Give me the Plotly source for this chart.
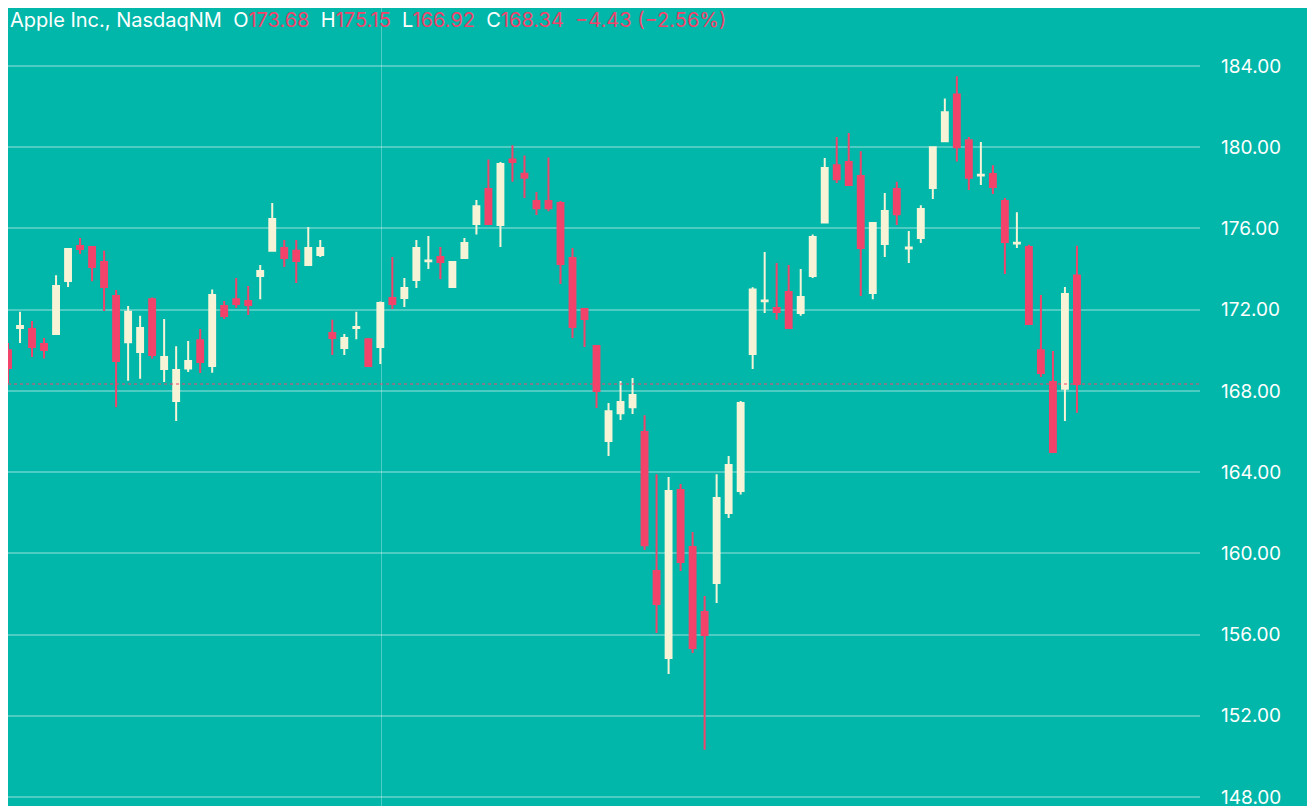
import plotly.graph_objects as go

opens = [173.12,170.0,171.1,171.05,170.31,170.8,173.41,175.14,175.09,174.35,172.67,170.4,169.92,172.52,169.08,167.5,169.1,170.5,169.23,172.18,172.52,172.43,173.66,174.9,175.04,174.9,174.2,174.7,170.85,
 170.11,171.1,170.55,170.16,172.57,172.57,173.46,174.38,174.6,173.12,174.55,176.22,177.94,176.17,179.4,178.7,177.35,177.35,177.25,174.55,172.03,170.21,
 165.53,166.9,167.2,165.98,159.13,154.85,163.12,160.31,157.11,158.54,161.99,163.07,169.82,
 172.41,172.08,172.87,171.84,173.66,176.3,179.12,179.27,178.58,172.82,175.23,177.94,175.02,175.53,177.99,180.3,182.6,180.35,178.61,178.68,177.35,175.26,175.09,170.0,168.44,168.1,173.68]
highs = [173.2,170.36,171.9,171.44,170.6,173.7,175.04,175.53,175.09,174.9,172.97,172.18,171.7,172.6,171.54,170.2,170.46,171.05,173.0,172.43,173.56,173.17,174.2,177.25,175.43,175.43,176.07,175.43,171.5,
 170.8,171.9,170.6,172.4,174.6,173.56,175.43,175.63,175.09,174.4,175.53,177.4,179.4,179.27,180.1,179.6,177.8,179.5,177.35,175.04,172.03,170.21,
 167.4,168.49,168.63,166.8,163.9,163.76,163.41,161.05,157.9,163.9,164.79,167.5,173.1,
 174.84,174.3,174.2,174.0,175.7,179.47,180.5,180.7,179.8,176.32,177.75,178.3,175.87,177.15,180.0,182.4,183.5,180.5,180.26,179.12,177.5,176.8,175.2,172.72,169.97,173.12,175.15]
lows = [171.35,168.39,170.36,169.67,169.6,170.8,173.12,174.74,173.4,171.93,167.2,168.5,168.6,169.6,168.44,166.52,168.93,168.88,168.9,171.54,172.08,171.74,172.52,174.9,174.1,173.31,174.2,174.6,169.77,
 169.77,170.55,169.2,169.33,172.03,172.13,173.07,174.0,173.5,173.07,174.5,175.7,176.2,175.09,178.3,177.5,176.66,176.85,173.26,170.6,170.16,167.16,
 164.79,166.57,166.86,160.16,156.08,154.06,159.13,155.09,150.32,157.55,161.74,162.9,169.08,
 171.84,171.5,171.1,171.7,173.56,176.27,178.24,178.14,172.67,172.52,174.6,176.17,174.3,175.28,177.45,180.3,179.3,177.9,178.14,177.7,173.76,175.04,171.3,168.68,164.99,166.52,166.92]
closes = [171.35,169.13,171.2,170.16,170.01,173.17,174.99,174.99,174.1,173.12,169.47,171.9,171.1,169.77,169.67,169.03,169.47,169.42,172.72,171.69,172.28,172.23,173.9,176.47,174.55,174.4,175.04,175.04,170.6,
 170.6,171.15,169.23,172.33,172.28,173.07,175.04,174.42,174.35,174.35,175.28,177.1,176.22,179.17,179.27,178.5,177.0,177.0,174.25,171.15,171.54,168.0,
 167.0,167.45,167.8,160.4,157.5,163.07,159.57,155.34,155.98,162.73,164.35,167.4,173.0,
 172.45,171.89,171.1,172.62,175.58,178.98,178.43,178.14,175.04,176.27,176.86,176.7,175.06,176.96,180.0,181.73,180.0,178.5,178.65,178.04,175.33,175.3,171.3,168.88,164.99,172.77,168.34]
idx = list(range(len(opens)))
yticks = [148, 152, 156, 160, 164, 168, 172, 176, 180, 184, 188]

CREAM = "#f7f3d6"
RED = "#f2436b"
BG = "#00b7a9"
FONT = "Inter, Open Sans, sans-serif"

fig = go.Figure(go.Candlestick(
    x=idx, open=opens, high=highs, low=lows, close=closes,
    increasing=dict(line=dict(color=CREAM, width=2), fillcolor=CREAM),
    decreasing=dict(line=dict(color=RED, width=2), fillcolor=RED),
    whiskerwidth=0, showlegend=False))

last = closes[-1]
chg = closes[-1] - closes[-2]
pct = chg / closes[-2] * 100
fig.add_hline(y=last, line=dict(color=RED, width=1.2, dash="dot"))

title = ("Apple Inc., NasdaqNM  O<span style='color:%s'>%.2f</span>  H<span style='color:%s'>%.2f</span>  "
         "L<span style='color:%s'>%.2f</span>  C<span style='color:%s'>%.2f</span>  "
         "<span style='color:%s'>%s (%s%%)</span>") % (
    RED, opens[-1], RED, highs[-1], RED, lows[-1], RED, last, RED,
    ("%.2f" % chg).replace("-", "−"), ("%.2f" % pct).replace("-", "−"))
fig.add_annotation(text=title, xref="paper", yref="paper", x=0.0, y=1.003,
                   xanchor="left", yanchor="top", showarrow=False,
                   font=dict(color="white", size=20, family=FONT))

fig.update_layout(
    width=1315, height=806, margin=dict(l=0, r=0, t=0, b=0),
    paper_bgcolor=BG, plot_bgcolor=BG,
    xaxis=dict(range=[0.999, 100.25], domain=[0, 0.9065], rangeslider=dict(visible=False),
               tickvals=[32.06], showticklabels=False, showgrid=True,
               gridcolor="rgba(255,255,255,0.3)", gridwidth=1, zeroline=False, showline=False),
    yaxis=dict(range=[147.16, 186.86], side="right", tickvals=yticks,
               ticktext=["%.2f" % t for t in yticks], showgrid=True,
               gridcolor="rgba(255,255,255,0.3)", gridwidth=1.5, zeroline=False,
               tickfont=dict(color="white", size=19, family=FONT),
               ticklabelstandoff=20),
)
fig.write_html("out.html")
